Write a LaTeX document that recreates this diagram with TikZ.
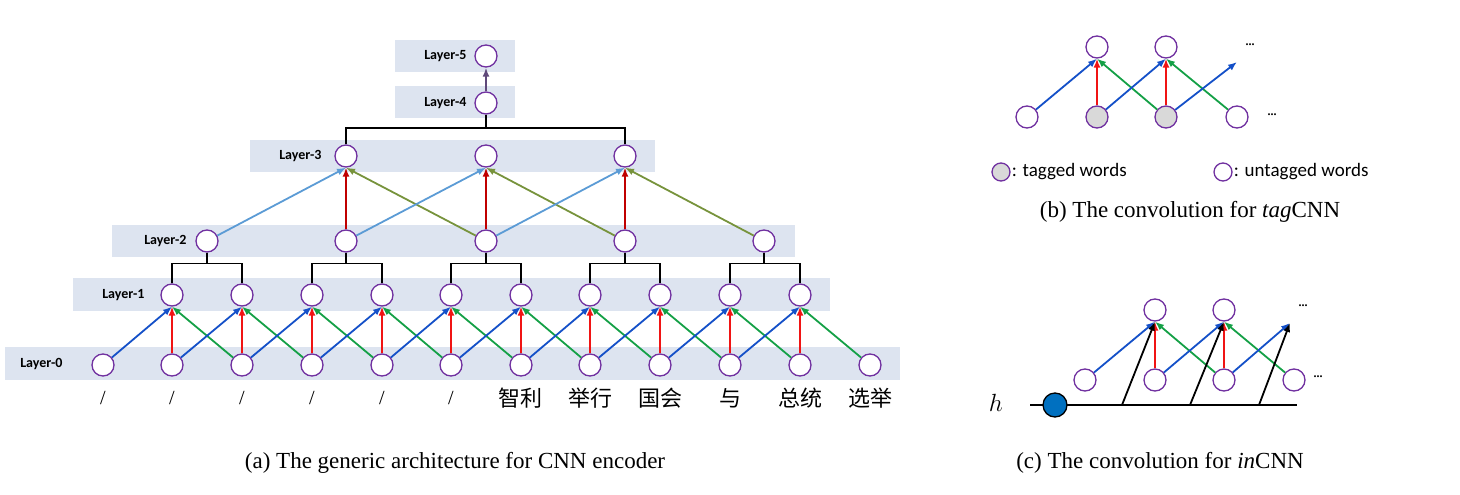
\documentclass[tikz,border=0pt]{standalone}
\usepackage{fontspec}
\setmainfont{Liberation Serif}
\newfontfamily\calfnt{Carlito}
\newfontfamily\cjkfnt{Noto Sans CJK SC}
\usetikzlibrary{arrows.meta,calc}
\definecolor{band}{RGB}{221,228,240}
\definecolor{pur}{RGB}{112,48,160}
\definecolor{bl}{RGB}{20,80,200}
\definecolor{gr}{RGB}{20,160,70}
\definecolor{rd}{RGB}{240,20,20}
\definecolor{lb}{RGB}{91,155,213}
\definecolor{dr}{RGB}{192,0,0}
\definecolor{ol}{RGB}{119,147,60}
\definecolor{vp}{RGB}{95,73,122}
\begin{document}
\begin{tikzpicture}[x=1pt,y=-1pt,
 n/.style={circle,draw=pur,line width=1.3pt,fill=white,minimum size=22pt,inner sep=0pt},
 t/.style={n,fill=black!15},
 lab/.style={font=\calfnt\bfseries\fontsize{14}{16}\selectfont,anchor=east},
 a/.style={line width=1.8pt,-{Latex[length=9pt,width=7pt]}},
 bracket/.style={line width=1.2pt},
 captxt/.style={font=\fontsize{23}{26}\selectfont},
 cw/.style={font=\cjkfnt\fontsize{22}{24}\selectfont},
 sl/.style={font=\fontsize{20}{22}\selectfont}]
\useasboundingbox (0,0) rectangle (1460,495);
% bands
\fill[band] (5,347) rectangle (900,380);
\fill[band] (73,278) rectangle (830,311);
\fill[band] (112,225) rectangle (795,257);
\fill[band] (250,140) rectangle (655,172);
\fill[band] (395,86) rectangle (515,118);
\fill[band] (395,40) rectangle (515,72);
\node[lab] at (66,364) {Layer-0};
\node[lab] at (148,295) {Layer-1};
\node[lab] at (190,241) {Layer-2};
\node[lab] at (325,156) {Layer-3};
\node[lab] at (470,103) {Layer-4};
\node[lab] at (470,56) {Layer-5};
% layer 0
\foreach \i/\x in {0/103,1/172,2/242,3/312,4/382,5/451,6/521,7/590,8/660,9/730,10/800,11/870}
  \node[n] (z\i) at (\x,365) {};
\foreach \i/\x in {1/172,2/242,3/312,4/382,5/451,6/521,7/590,8/660,9/730,10/800}
  \node[n] (o\i) at (\x,295) {};
\foreach \i in {1,...,10}{
  \pgfmathtruncatemacro\p{\i-1}\pgfmathtruncatemacro\q{\i+1}
  \draw[a,bl] (z\p) -- (o\i.south);
  \draw[a,gr] (z\q) -- (o\i.south);
  \draw[a,rd] (z\i) -- (o\i.south);}
% words
\foreach \x in {103,172,242,312,382,451} \node[sl] at (\x,398) {/};
\node[cw] at (520,398) {智利};
\node[cw] at (590,398) {举行};
\node[cw] at (660,398) {国会};
\node[cw] at (730,398) {与};
\node[cw] at (800,398) {总统};
\node[cw] at (870,398) {选举};
% layer 2
\foreach \i/\x in {1/207,2/346,3/486,4/625,5/764}
  \node[n] (w\i) at (\x,241) {};
\foreach \i/\a/\b in {1/1/2,2/3/4,3/5/6,4/7/8,5/9/10}{
  \coordinate (j\i) at ($(w\i.south)+(0,11)$);
  \draw[bracket] (o\a.north) |- (j\i) -| (o\b.north);
  \draw[bracket] (w\i.south) -- (j\i);}
% layer 3
\foreach \i/\x in {1/346,2/486,3/625}
  \node[n] (h\i) at (\x,156) {};
\foreach \i/\p/\c/\q in {1/1/2/3,2/2/3/4,3/3/4/5}{
  \draw[a,lb] (w\p) -- (h\i.south);
  \draw[a,ol] (w\q) -- (h\i.south);
  \draw[a,dr] (w\c) -- (h\i.south);}
\node[n] (f4) at (486,103) {};
\node[n] (f5) at (486,56) {};
\coordinate (k) at (486,128);
\draw[bracket] (h1.north) |- (k) -| (h3.north);
\draw[bracket] (f4.south) -- (k);
\draw[a,vp] (f4) -- (f5);
\node[captxt] at (455,463) {(a) The generic architecture for CNN encoder};
% (b)
\node[n] (bt1) at (1097,47) {};
\node[n] (bt2) at (1166,47) {};
\node[n] (bb0) at (1027,117) {};
\node[t] (bb1) at (1097,117) {};
\node[t] (bb2) at (1166,117) {};
\node[n] (bb3) at (1237,117) {};
\coordinate (be) at (1237,62);
\draw[a,bl] (bb0) -- (bt1.south);
\draw[a,gr] (bb2) -- (bt1.south);
\draw[a,rd] (bb1) -- (bt1.south);
\draw[a,bl] (bb1) -- (bt2.south);
\draw[a,gr] (bb3) -- (bt2.south);
\draw[a,rd] (bb2) -- (bt2.south);
\draw[a,bl] (bb2) -- (be);
\node[font=\bfseries\large] at (1250,45) {...};
\node[font=\bfseries\large] at (1272,115) {...};
\node[t,minimum size=18pt] (lg1) at (1001,172) {};
\node[font=\calfnt\fontsize{19}{21}\selectfont,anchor=west,inner sep=1pt] at (lg1.east) {: tagged words};
\node[n,minimum size=18pt] (lg2) at (1223,172) {};
\node[font=\calfnt\fontsize{19}{21}\selectfont,anchor=west,inner sep=1pt] at (lg2.east) {: untagged words};
\node[captxt] at (1190,212) {(b) The convolution for \textit{tag}CNN};
% (c)
\node[n] (ct1) at (1155,310) {};
\node[n] (ct2) at (1224,310) {};
\node[n] (cb0) at (1085,380) {};
\node[n] (cb1) at (1155,380) {};
\node[n] (cb2) at (1224,380) {};
\node[n] (cb3) at (1294,380) {};
\coordinate (ce) at (1290,323);
\draw[a,bl] (cb0) -- (ct1.south);
\draw[a,gr] (cb2) -- (ct1.south);
\draw[a,rd] (cb1) -- (ct1.south);
\draw[a,bl] (cb1) -- (ct2.south);
\draw[a,gr] (cb3) -- (ct2.south);
\draw[a,rd] (cb2) -- (ct2.south);
\draw[a,bl] (cb2) -- (ce);
\coordinate (hs) at (1030,405);
\coordinate (he) at (1297,405);
\draw[line width=1.5pt] (hs) -- (he);
\node[circle,draw=black,line width=1.3pt,fill={rgb,255:red,0;green,112;blue,192},minimum size=24pt,inner sep=0pt] (hc) at (1055,405) {};
\coordinate (p1) at (1122,405);
\coordinate (p2) at (1190,405);
\coordinate (p3) at (1259,405);
\draw[a,black] (p1) -- (ct1.south);
\draw[a,black] (p2) -- (ct2.south);
\draw[a,black] (p3) -- (ce);
\node[font=\fontsize{28}{30}\selectfont\itshape] at (996,403) {$h$};
\node[font=\bfseries\large] at (1303,306) {...};
\node[font=\bfseries\large] at (1318,377) {...};
\node[captxt] at (1160,463) {(c) The convolution for \textit{in}CNN};
\end{tikzpicture}
\end{document}
